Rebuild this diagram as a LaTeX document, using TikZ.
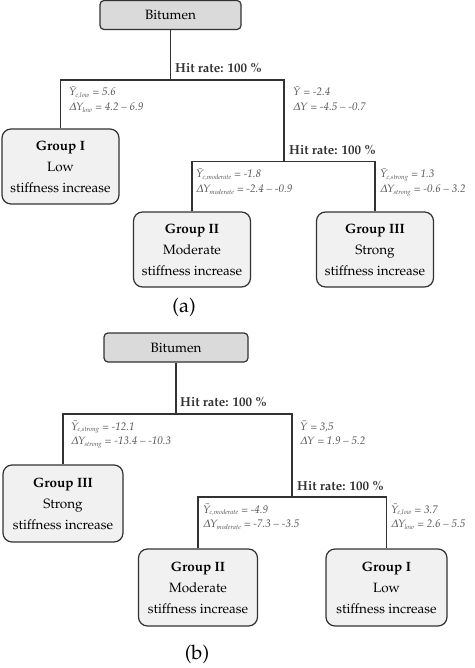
\documentclass[tikz,border=0pt]{standalone}
\usepackage[T1]{fontenc}
\usepackage{mathpazo}
\usepackage{amsmath}
\usepackage{xcolor}
\usetikzlibrary{positioning,calc}
\definecolor{edge}{RGB}{50,50,50}
\definecolor{lblgray}{RGB}{80,80,80}
\definecolor{rootfill}{RGB}{218,218,218}
\definecolor{grpfill}{RGB}{241,241,241}
\newcommand{\lsub}[1]{_{\mbox{\fontsize{6.6}{7}\selectfont\itshape #1}}}

\begin{document}
\begin{tikzpicture}[
  x=1pt,y=-1pt,
  root/.style={draw=edge,line width=1.2pt,rounded corners=4pt,fill=rootfill,minimum height=29pt,inner sep=0pt,font=\fontsize{13.5}{15}\selectfont},
  grp/.style={draw=edge,line width=1.2pt,rounded corners=9pt,fill=grpfill,align=center,minimum width=117pt,minimum height=75pt,inner sep=0pt,font=\fontsize{13.5}{21}\selectfont},
  hit/.style={anchor=base west,inner sep=0pt,font=\fontsize{13}{15}\selectfont\bfseries,text=edge},
  lbl/.style={anchor=base west,inner sep=0pt,text=lblgray,font=\fontsize{11}{13}\selectfont\itshape},
  ln/.style={draw=edge,line width=1.1pt},
  panelcap/.style={inner sep=0pt,font=\fontsize{20}{22}\selectfont}
]
\useasboundingbox (0,0) rectangle (474,668);

% (a)
\node[root,minimum width=141pt] (bita) at (170.5,15) {Bitumen};
\node[grp] (g1a) at (60.5,166.5) {\textbf{Group I}\\Low\\stiffness increase};
\node[grp] (g2a) at (192,249.5) {\textbf{Group II}\\Moderate\\stiffness increase};
\node[grp] (g3a) at (375,249.5) {\textbf{Group III}\\Strong\\stiffness increase};
\coordinate (sa1) at (bita.south |- 0,80);
\coordinate (sa2) at (284,161.5);
\draw[ln] (bita) -- (sa1);
\draw[ln] (g1a.north) |- (sa1) -| (sa2);
\draw[ln] (g2a.north) |- (sa2) -| (g3a.north);
\node[hit] (hita1) at (175,73) {Hit rate: 100 \%};
\node[hit] (hita2) at (289,155) {Hit rate: 100 \%};
\node[lbl] (la1) at (69,96) {$\bar{Y}\lsub{c,low}$ = 5.6};
\node[lbl] (la1d) at (69,111) {$\varDelta Y\lsub{low}$ = 4.2 -- 6.9};
\node[lbl] (la2) at (293,96) {$\bar{Y}$ = -2.4};
\node[lbl] (la2d) at (293,111) {$\varDelta Y$ = -4.5 -- -0.7};
\node[lbl] (la3) at (196,178) {$\bar{Y}\lsub{c,moderate}$ = -1.8};
\node[lbl] (la3d) at (196,192.5) {$\varDelta Y\lsub{moderate}$ = -2.4 -- -0.9};
\node[lbl] (la4) at (380,178) {$\bar{Y}\lsub{c,strong}$ = 1.3};
\node[lbl] (la4d) at (380,192.5) {$\varDelta Y\lsub{strong}$ = -0.6 -- 3.2};
\node[panelcap] (capa) at (184,307) {(a)};

% (b)
\node[root,minimum width=144pt] (bitb) at (176,347.5) {Bitumen};
\node[grp,minimum width=120pt,minimum height=77pt] (g3b) at (63,503.5) {\textbf{Group III}\\Strong\\stiffness increase};
\node[grp,minimum width=119pt,minimum height=77pt] (g2b) at (198,587.5) {\textbf{Group II}\\Moderate\\stiffness increase};
\node[grp,minimum width=121pt,minimum height=77pt] (g1b) at (386.5,587.5) {\textbf{Group I}\\Low\\stiffness increase};
\coordinate (sb1) at (bitb.south |- 0,414);
\coordinate (sb2) at (292,497);
\draw[ln] (bitb) -- (sb1);
\draw[ln] (g3b.north) |- (sb1) -| (sb2);
\draw[ln] (g2b.north) |- (sb2) -| (g1b.north);
\node[hit] (hitb1) at (180,406.5) {Hit rate: 100 \%};
\node[hit] (hitb2) at (297,490) {Hit rate: 100 \%};
\node[lbl] (lb1) at (71,430) {$\bar{Y}\lsub{c,strong}$ = -12.1};
\node[lbl] (lb1d) at (71,444.5) {$\varDelta Y\lsub{strong}$ = -13.4 -- -10.3};
\node[lbl] (lb2) at (300,430) {$\bar{Y}$ = 3,5};
\node[lbl] (lb2d) at (300,444.5) {$\varDelta Y$ = 1.9 -- 5.2};
\node[lbl] (lb3) at (203,513) {$\bar{Y}\lsub{c,moderate}$ = -4.9};
\node[lbl] (lb3d) at (203,527.5) {$\varDelta Y\lsub{moderate}$ = -7.3 -- -3.5};
\node[lbl] (lb4) at (391,513) {$\bar{Y}\lsub{c,low}$ = 3.7};
\node[lbl] (lb4d) at (391,527.5) {$\varDelta Y\lsub{low}$ = 2.6 -- 5.5};
\node[panelcap] (capb) at (197,654) {(b)};
\end{tikzpicture}
\end{document}
